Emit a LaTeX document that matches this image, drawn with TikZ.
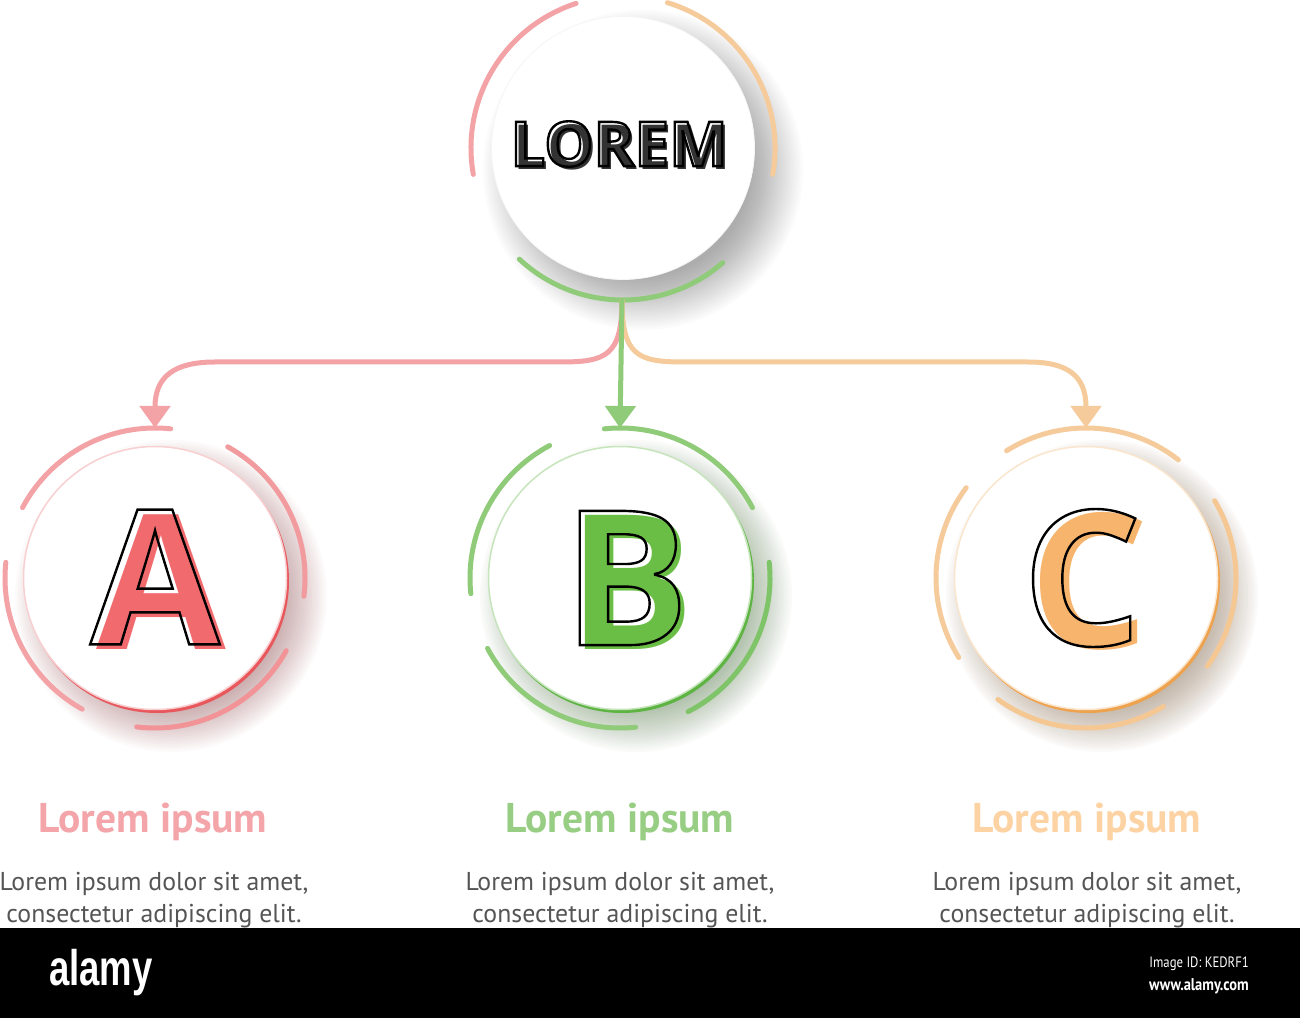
\documentclass[tikz,border=0pt]{standalone}
\usepackage{fontspec}
\setmainfont{PT Sans}
\newfontfamily\letterfont{Open Sans}
\newfontfamily\logofont{Liberation Sans}
\usetikzlibrary{calc,arrows.meta}
\definecolor{pinkL}{HTML}{F3A2A6}
\definecolor{greenL}{HTML}{8FCB79}
\definecolor{orangeL}{HTML}{F6CB9B}
\definecolor{pinkD}{HTML}{E8575C}
\definecolor{greenD}{HTML}{5DB443}
\definecolor{orangeD}{HTML}{EFA24E}
\definecolor{pinkF}{HTML}{F06A6E}
\definecolor{greenF}{HTML}{6BBE45}
\definecolor{orangeF}{HTML}{F7B46C}
\definecolor{pinkT}{HTML}{F4A5A9}
\definecolor{greenT}{HTML}{98CE84}
\definecolor{orangeT}{HTML}{FDD3A4}
\definecolor{bodygray}{HTML}{555555}
\definecolor{loremgray}{HTML}{333333}
\newcommand{\outlinetxt}[1]{\special{pdf:literal direct 1 Tr 2.4 w}#1\special{pdf:literal direct 0 Tr 0.4 w}}
\newcommand{\softshadow}[4]{%
  \foreach \k in {0,...,17}{\fill[#2, opacity=0.025] ($(#1)+(#3,#4)$) circle[radius=156-2.5*\k];}}
\newcommand{\ringarc}[4]{\draw[ring,#1] ($(#2)+(#3:150)$) arc[start angle=#3, end angle=#4, radius=150];}
\begin{document}
\begin{tikzpicture}[x=1pt,y=1pt,
  ring/.style={line width=5pt, line cap=round},
  conn/.style={line width=5pt, line cap=round, -{Triangle[width=30pt,length=22pt]}},
  disc/.style={circle, fill=white, minimum size=263pt, inner sep=0pt},
  bigletter/.style={font=\letterfont\bfseries\fontsize{188}{188}\selectfont, inner sep=0pt},
  loremtxt/.style={font=\letterfont\bfseries\fontsize{62}{62}\selectfont, inner sep=0pt},
  title/.style={font=\bfseries\fontsize{41.5}{41.5}\selectfont, anchor=base, inner sep=0pt},
  body/.style={font=\fontsize{25.8}{25.8}\selectfont, text=bodygray, anchor=base, inner sep=0pt}]
\useasboundingbox (0,0) rectangle (1300,1018);
\fill[white] (0,0) rectangle (1300,1018);

% ---------- top circle
\coordinate (T) at (623,870);
\foreach \k in {0,...,21}{\fill[black, opacity=0.016] ($(T)+(20,-22)$) circle[radius=160-2.5*\k];}
\node[disc, draw=black!4, line width=0.8pt] (top) at (T) {};
\draw[ring, pinkL] ($(T)+(108:152)$) arc[start angle=108, end angle=190, radius=152];
\draw[ring, orangeL] ($(T)+(73:152)$) arc[start angle=73, end angle=-10, radius=152];
\draw[ring, greenL] ($(T)+(227:152)$) arc[start angle=227, end angle=311, radius=152];
\node[loremtxt, text=loremgray] (lfill) at ($(T)+(-1,1)$) {LOREM};
\node[loremtxt, text=black] (lout) at ($(T)+(-4,4)$) {\outlinetxt{LOREM}};

% ---------- circle centres
\coordinate (A) at (155,440);
\coordinate (B) at (620,440);
\coordinate (C) at (1086,440);
\coordinate (split) at (622,718);
\coordinate (Atop) at ($(A)+(0,150)$);
\coordinate (Btop) at ($(B)+(0,150)$);
\coordinate (Ctop) at ($(C)+(0,150)$);

% ---------- shadows
\softshadow{A}{pinkD!55!black}{16}{-18}
\softshadow{B}{greenD!55!black}{16}{-18}
\softshadow{C}{orangeD!45!black}{16}{-18}

% ---------- rims and discs
\fill[pinkD] ($(A)+(2,-3)$) circle[radius=132];
\node[disc, draw=pinkL!50, line width=1.5pt] (Acirc) at (A) {};
\fill[greenD] ($(B)+(2,-3)$) circle[radius=132];
\node[disc, draw=greenL!50, line width=1.5pt] (Bcirc) at (B) {};
\fill[orangeD] ($(C)+(2,-3)$) circle[radius=132];
\node[disc, draw=orangeL!50, line width=1.5pt] (Ccirc) at (C) {};

% ---------- arcs
\ringarc{pinkL}{A}{84}{152}
\ringarc{pinkL!90!pinkD}{A}{-7}{61}
\ringarc{pinkL}{A}{174}{241}
\ringarc{pinkL!80!pinkD}{A}{263}{331}
\ringarc{greenL}{B}{28}{96}
\ringarc{greenL}{B}{118}{186}
\ringarc{greenL!70!greenD}{B}{-63}{6}
\ringarc{greenL}{B}{208}{276}
\ringarc{orangeL}{C}{52}{122}
\ringarc{orangeL}{C}{143}{212}
\ringarc{orangeL!90!orangeD}{C}{-36}{31}
\ringarc{orangeL!90!orangeD}{C}{234}{301}

% ---------- connectors
\draw[conn, pinkL] (split) .. controls (622,662) and (606,656) .. (560,656) -- (215,656) .. controls (175,656) and (155,642) .. (Atop);
\draw[conn, orangeL] (split) .. controls (622,662) and (638,656) .. (684,656) -- (1028,656) .. controls (1068,656) and (1086,642) .. (Ctop);
\draw[conn, greenL] (split) -- (Btop);

% ---------- letters
\node[bigletter, text=pinkF] (Af) at ($(A)+(6,-4)$) {A};
\node[bigletter, text=black] (Ao) at ($(A)+(0,1)$) {\outlinetxt{A}};
\node[bigletter, text=greenF] (Bf) at ($(B)+(12,-4)$) {B};
\node[bigletter, text=black] (Bo) at ($(B)+(6,0)$) {\outlinetxt{B}};
\node[bigletter, text=orangeF] (Cf) at ($(C)+(3,-3)$) {C};
\node[bigletter, text=black] (Co) at ($(C)+(-4,0)$) {\outlinetxt{C}};

% ---------- texts
\node[title, text=pinkT] (At) at (153,186) {Lorem ipsum};
\node[title, text=greenT] (Bt) at (620,186) {Lorem ipsum};
\node[title, text=orangeT] (Ct) at (1087,186) {Lorem ipsum};
\node[body] (Ab1) at (154,128) {Lorem ipsum dolor sit amet,};
\node[body] (Ab2) at (154,96) {consectetur adipiscing elit.};
\node[body] (Bb1) at (620,128) {Lorem ipsum dolor sit amet,};
\node[body] (Bb2) at (620,96) {consectetur adipiscing elit.};
\node[body] (Cb1) at (1087,128) {Lorem ipsum dolor sit amet,};
\node[body] (Cb2) at (1087,96) {consectetur adipiscing elit.};

% ---------- bottom bar
\fill[black] (0,0) rectangle (1300,90);
\node[text=white, font=\logofont\bfseries\fontsize{50}{50}\selectfont, xscale=0.73, inner sep=0pt, anchor=base] (logo) at (101,33) {alamy};
\node[text=white, font=\fontsize{15}{15}\selectfont, xscale=0.85, inner sep=0pt, anchor=base east] (imgid) at (1249,51) {Image ID: KEDRF1};
\node[text=white, font=\bfseries\fontsize{17}{17}\selectfont, xscale=0.85, inner sep=0pt, anchor=base east] (www) at (1249,28) {www.alamy.com};
\end{tikzpicture}
\end{document}
